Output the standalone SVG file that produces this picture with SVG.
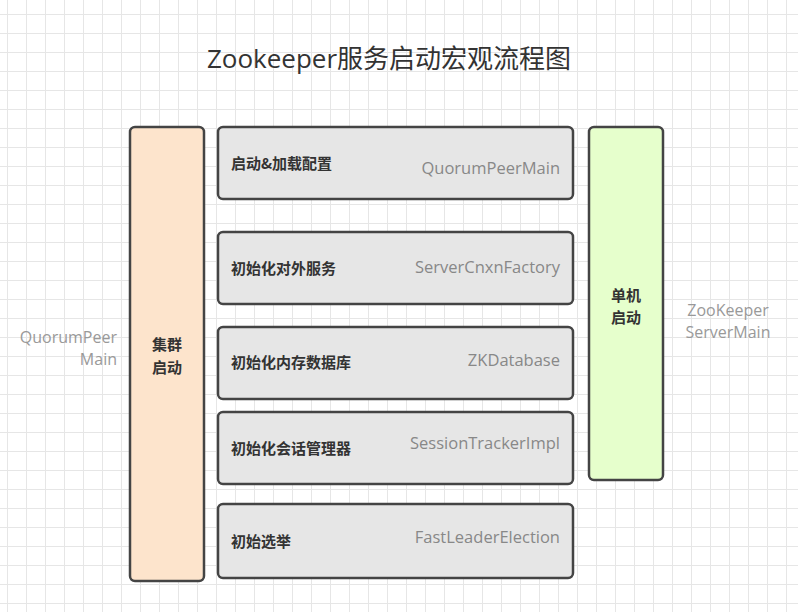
<svg xmlns="http://www.w3.org/2000/svg" width="798" height="612" viewBox="0 0 798 612">
<defs>
<pattern id="grid" width="19" height="19" patternUnits="userSpaceOnUse" x="7" y="14">
<path d="M0 0.5H19M0.5 0V19" fill="none" stroke="#e6e6e6" stroke-width="1"/>
</pattern>
</defs>
<style>
.box{fill:#e6e6e6;stroke:#444;stroke-width:2.5}
.cn{font-family:"Noto Sans CJK SC","Noto Sans",sans-serif;font-size:15px;font-weight:bold;fill:#333}
.en{font-family:"Open Sans","Noto Sans",sans-serif;font-size:16.5px;fill:#888}
.side{font-family:"Open Sans","Noto Sans",sans-serif;font-size:16px;fill:#999}
</style>
<rect width="798" height="612" fill="#fff"/>
<rect width="798" height="612" fill="url(#grid)"/>
<text x="389" y="68" text-anchor="middle" font-family="'Open Sans','Noto Sans CJK SC',sans-serif" font-size="26" fill="#333">Zookeeper服务启动宏观流程图</text>
<g id="cluster"><rect x="130" y="127" width="74" height="454" rx="5" fill="#fde4cc" stroke="#444" stroke-width="2.5"/>
<text x="167" y="350" text-anchor="middle" class="cn" font-size="16">集群</text><text x="167" y="373" text-anchor="middle" class="cn" font-size="16">启动</text></g>
<g id="single"><rect x="589" y="127" width="74" height="353" rx="5" fill="#e6ffcc" stroke="#444" stroke-width="2.5"/>
<text x="626" y="301" text-anchor="middle" class="cn" font-size="16">单机</text><text x="626" y="323" text-anchor="middle" class="cn" font-size="16">启动</text></g>
<g id="n1"><rect class="box" x="218" y="127" width="355" height="72" rx="5"/><text x="231" y="169" class="cn">启动&amp;加载配置</text><text x="560" y="174" text-anchor="end" class="en">QuorumPeerMain</text></g>
<g id="n2"><rect class="box" x="218" y="232" width="355" height="72" rx="5"/><text x="231" y="274" class="cn">初始化对外服务</text><text x="560" y="273" text-anchor="end" class="en">ServerCnxnFactory</text></g>
<g id="n3"><rect class="box" x="218" y="327" width="355" height="72" rx="5"/><text x="231" y="368" class="cn">初始化内存数据库</text><text x="560" y="366" text-anchor="end" class="en">ZKDatabase</text></g>
<g id="n4"><rect class="box" x="218" y="412" width="355" height="72" rx="5"/><text x="231" y="454" class="cn">初始化会话管理器</text><text x="560" y="449" text-anchor="end" class="en">SessionTrackerImpl</text></g>
<g id="n5"><rect class="box" x="218" y="504" width="355" height="74" rx="5"/><text x="231" y="547" class="cn">初始选举</text><text x="560" y="543" text-anchor="end" class="en">FastLeaderElection</text></g>
<g id="l1"><text x="117" y="343" text-anchor="end" class="side">QuorumPeer</text><text x="117" y="365" text-anchor="end" class="side">Main</text></g>
<g id="l2"><text x="728" y="316" text-anchor="middle" class="side">ZooKeeper</text><text x="728" y="338" text-anchor="middle" class="side">ServerMain</text></g>
<g id="connectors"></g>
</svg>
